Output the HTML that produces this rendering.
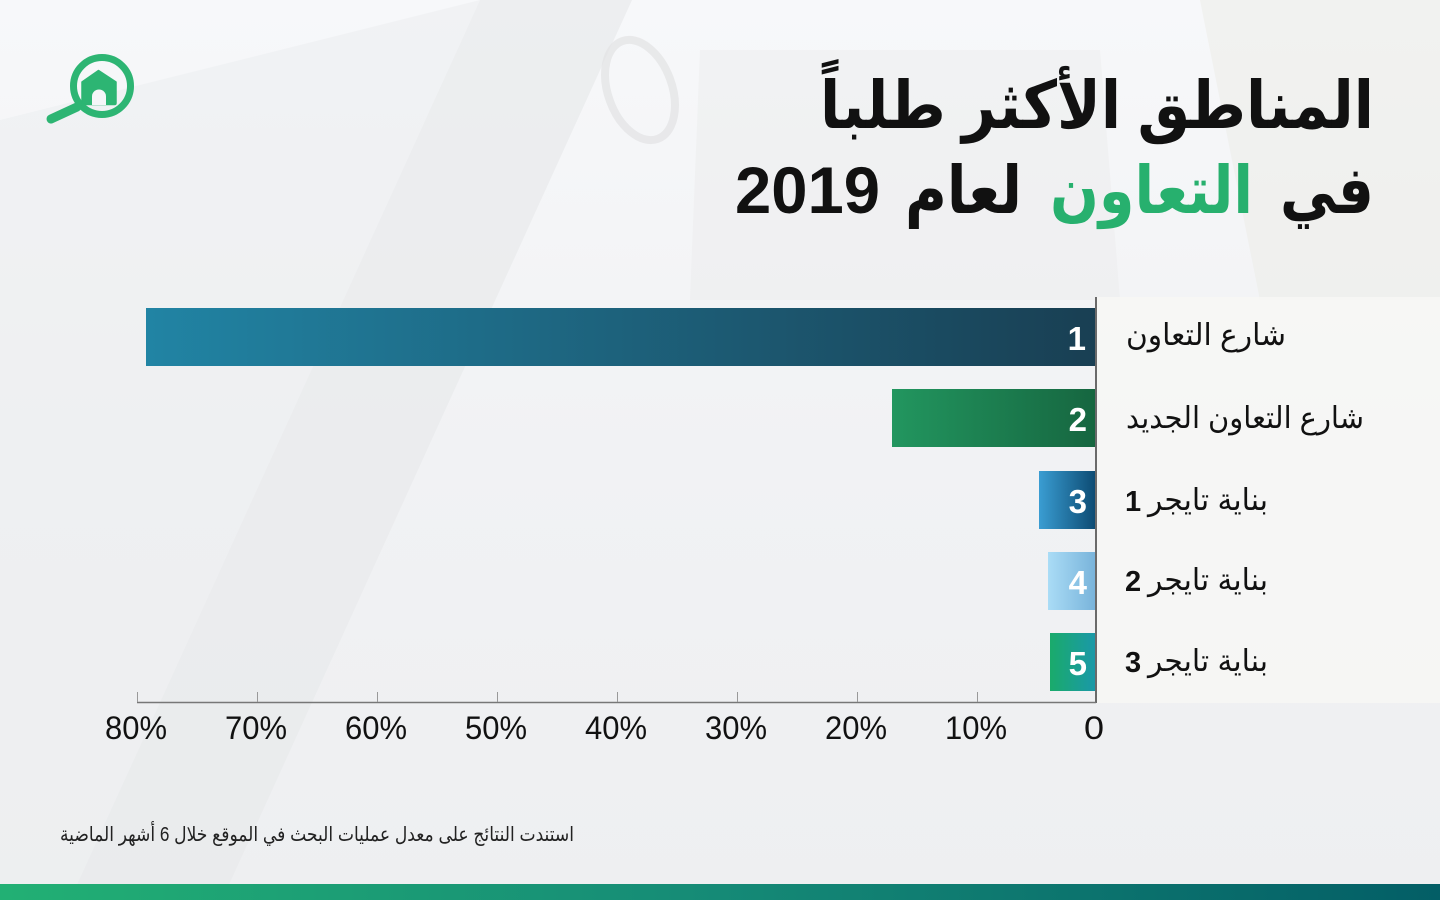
<!DOCTYPE html>
<html><head><meta charset="utf-8">
<style>
html,body{margin:0;padding:0;background:#f2f3f5;}
svg{display:block;}
.ar{font-family:"Liberation Sans","DejaVu Sans",sans-serif;}
.lat{font-family:"Liberation Sans",sans-serif;}
</style></head>
<body>
<svg width="1440" height="900" viewBox="0 0 1440 900" xmlns="http://www.w3.org/2000/svg">
<defs>
<linearGradient id="bg" x1="0" y1="0" x2="0" y2="1">
<stop offset="0" stop-color="#f7f8fa"/><stop offset="0.5" stop-color="#f1f2f4"/><stop offset="1" stop-color="#eeeff1"/>
</linearGradient>
<linearGradient id="g1" x1="0" y1="0" x2="1" y2="0"><stop offset="0" stop-color="#2184a4"/><stop offset="1" stop-color="#193f53"/></linearGradient>
<linearGradient id="g2" x1="0" y1="0" x2="1" y2="0"><stop offset="0" stop-color="#22965f"/><stop offset="1" stop-color="#166640"/></linearGradient>
<linearGradient id="g3" x1="0" y1="0" x2="1" y2="0"><stop offset="0" stop-color="#3a9dd2"/><stop offset="1" stop-color="#0c4a72"/></linearGradient>
<linearGradient id="g4" x1="0" y1="0" x2="1" y2="0"><stop offset="0" stop-color="#aadcf6"/><stop offset="1" stop-color="#78b3da"/></linearGradient>
<linearGradient id="g5" x1="0" y1="0" x2="1" y2="0"><stop offset="0" stop-color="#1aab6b"/><stop offset="1" stop-color="#1a98a9"/></linearGradient>
<linearGradient id="gs" x1="0" y1="0" x2="1" y2="0"><stop offset="0" stop-color="#22b074"/><stop offset="0.5" stop-color="#158a76"/><stop offset="1" stop-color="#035e66"/></linearGradient>
</defs>

<!-- background -->
<rect x="0" y="0" width="1440" height="900" fill="url(#bg)"/>
<polygon points="480,0 632,0 222,900 70,900" fill="#e8e9eb" opacity="0.7"/>
<polygon points="0,120 480,0 70,900 0,900" fill="#eceef0" opacity="0.6"/>
<polygon points="700,50 1100,50 1120,300 690,300" fill="#ebebea" opacity="0.45"/>
<polygon points="1200,0 1440,0 1440,300 1260,300" fill="#ecebe6" opacity="0.5"/>
<ellipse cx="640" cy="90" rx="32" ry="52" fill="none" stroke="#e2e3e4" stroke-width="8" opacity="0.7" transform="rotate(-20 640 90)"/>

<!-- logo -->
<circle cx="102" cy="86" r="28.5" fill="none" stroke="#2db573" stroke-width="7"/>
<line x1="77" y1="107" x2="51" y2="119" stroke="#2db573" stroke-width="9" stroke-linecap="round"/>
<path d="M82,82 L98.5,70.5 L116,82 L116,103 Q116,104.5 114.5,104.5 L83.5,104.5 Q82,104.5 82,103 Z" fill="#2db573" stroke="#2db573" stroke-width="1.5" stroke-linejoin="round"/>
<path d="M92,105 V96.5 a7,7 0 0 1 14,0 V105 Z" fill="#f5f6f8"/>

<!-- title -->
<text class="ar" x="820" y="128" font-size="66" font-weight="bold" fill="#111" textLength="554" lengthAdjust="spacingAndGlyphs">المناطق الأكثر طلباً</text>
<text class="ar" x="1280" y="213" font-size="66" font-weight="bold" fill="#111" textLength="94" lengthAdjust="spacingAndGlyphs">في</text>
<text class="ar" x="1050" y="213" font-size="66" font-weight="bold" fill="#27b06e" textLength="203" lengthAdjust="spacingAndGlyphs">التعاون</text>
<text class="ar" x="905" y="213" font-size="66" font-weight="bold" fill="#111" textLength="117" lengthAdjust="spacingAndGlyphs">لعام</text>
<text class="lat" x="735" y="213" font-size="66" font-weight="bold" fill="#111" textLength="145" lengthAdjust="spacingAndGlyphs">2019</text>

<!-- right panel -->
<rect x="1096" y="297" width="344" height="406" fill="#f7f7f5" opacity="0.85"/>

<!-- bars -->
<rect x="146" y="308" width="949" height="58" fill="url(#g1)"/>
<rect x="892" y="389" width="204" height="58" fill="url(#g2)"/>
<rect x="1039" y="471" width="57" height="58" fill="url(#g3)"/>
<rect x="1048" y="552" width="48" height="58" fill="url(#g4)"/>
<rect x="1050" y="633" width="46" height="58" fill="url(#g5)"/>

<g class="lat" font-size="33" font-weight="bold" fill="#fff" text-anchor="end">
<text x="1086" y="350">1</text>
<text x="1087" y="431">2</text>
<text x="1087" y="513">3</text>
<text x="1087" y="594">4</text>
<text x="1087" y="675">5</text>
</g>

<!-- axes -->
<line x1="1096" y1="297" x2="1096" y2="703" stroke="#6a6a6a" stroke-width="2"/>
<line x1="137" y1="702.5" x2="1096" y2="702.5" stroke="#777" stroke-width="1.5"/>
<g stroke="#999" stroke-width="1">
<line x1="137.5" y1="692" x2="137.5" y2="702"/>
<line x1="257.5" y1="692" x2="257.5" y2="702"/>
<line x1="377.5" y1="692" x2="377.5" y2="702"/>
<line x1="497.5" y1="692" x2="497.5" y2="702"/>
<line x1="617.5" y1="692" x2="617.5" y2="702"/>
<line x1="737.5" y1="692" x2="737.5" y2="702"/>
<line x1="857.5" y1="692" x2="857.5" y2="702"/>
<line x1="977.5" y1="692" x2="977.5" y2="702"/>
</g>
<g class="lat" font-size="32" fill="#111">
<text x="105" y="739" textLength="62" lengthAdjust="spacingAndGlyphs">80%</text>
<text x="225" y="739" textLength="62" lengthAdjust="spacingAndGlyphs">70%</text>
<text x="345" y="739" textLength="62" lengthAdjust="spacingAndGlyphs">60%</text>
<text x="465" y="739" textLength="62" lengthAdjust="spacingAndGlyphs">50%</text>
<text x="585" y="739" textLength="62" lengthAdjust="spacingAndGlyphs">40%</text>
<text x="705" y="739" textLength="62" lengthAdjust="spacingAndGlyphs">30%</text>
<text x="825" y="739" textLength="62" lengthAdjust="spacingAndGlyphs">20%</text>
<text x="945" y="739" textLength="62" lengthAdjust="spacingAndGlyphs">10%</text>
<text x="1084" y="739" textLength="20" lengthAdjust="spacingAndGlyphs">0</text>
</g>

<!-- category labels -->
<g class="ar" font-size="30" fill="#111">
<text x="1126" y="345" textLength="160" lengthAdjust="spacingAndGlyphs">شارع التعاون</text>
<text x="1126" y="428" textLength="238" lengthAdjust="spacingAndGlyphs">شارع التعاون الجديد</text>
<text x="1148" y="510" textLength="120" lengthAdjust="spacingAndGlyphs">بناية تايجر</text>
<text x="1148" y="590" textLength="120" lengthAdjust="spacingAndGlyphs">بناية تايجر</text>
<text x="1148" y="671" textLength="120" lengthAdjust="spacingAndGlyphs">بناية تايجر</text>
</g>
<g class="lat" font-size="29" font-weight="bold" fill="#111">
<text x="1125" y="511">1</text>
<text x="1125" y="591">2</text>
<text x="1125" y="672">3</text>
</g>

<!-- footnote -->
<text class="ar" x="60" y="841" font-size="20" fill="#222" textLength="514" lengthAdjust="spacingAndGlyphs">استندت النتائج على معدل عمليات البحث في الموقع خلال 6 أشهر الماضية</text>

<!-- bottom stripe -->
<rect x="0" y="884" width="1440" height="16" fill="url(#gs)"/>
</svg>
</body></html>
